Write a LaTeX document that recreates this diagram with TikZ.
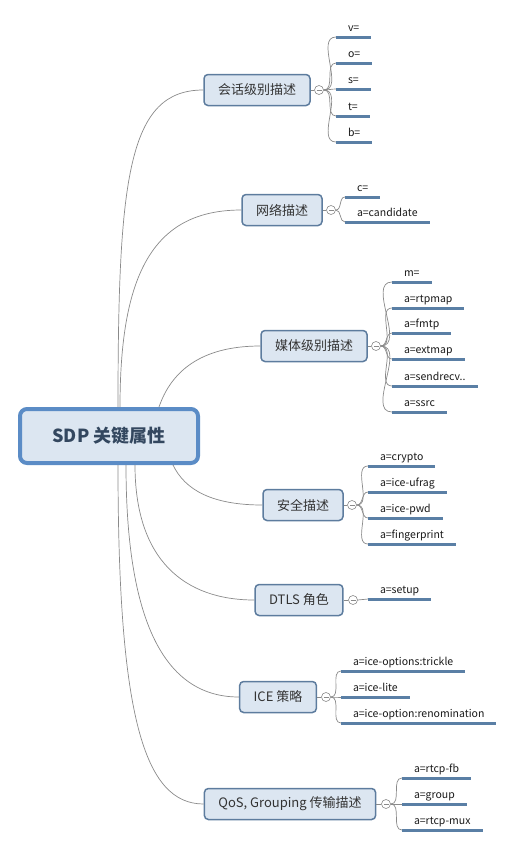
\documentclass[tikz,border=0pt]{standalone}
\usepackage{fontspec}
\setmainfont{Noto Sans CJK SC}
\definecolor{rootblue}{HTML}{5B8CC6}
\definecolor{boxfill}{HTML}{DCE6F1}
\definecolor{boxline}{HTML}{5D7C9E}
\definecolor{roottext}{HTML}{33475F}
\definecolor{leafblue}{HTML}{5A7FA5}
\definecolor{linegray}{HTML}{8A8A8A}
\begin{document}
\begin{tikzpicture}[x=1pt,y=-1pt]
\tikzset{
  raiz/.style={draw=rootblue,line width=4pt,fill=boxfill,rounded corners=7pt,minimum width=178pt,minimum height=54pt,font=\fontsize{18}{21}\selectfont\bfseries,text=roottext},
  ramo/.style={draw=boxline,line width=1.5pt,fill=boxfill,rounded corners=4pt,minimum height=31pt,inner xsep=14pt,font=\fontsize{13}{15}\selectfont,text=black!80},
  sublinha/.style={draw=leafblue,line width=3pt},
  folha/.style={anchor=south west,outer sep=0pt,inner xsep=12pt,inner ysep=3pt,text height=8pt,text depth=2.5pt,font=\fontsize{10.5}{12}\selectfont,text=black!90,
    append after command={(\tikzlastnode.south west) edge[sublinha] (\tikzlastnode.south east)}},
  botao/.style={circle,draw=linegray,fill=white,minimum size=9pt,inner sep=0pt,line width=0.6pt,
    path picture={\draw[linegray,line width=0.6pt] ([xshift=-2.5pt]path picture bounding box.center) -- ([xshift=2.5pt]path picture bounding box.center);}},
  galho/.style={draw=linegray,line width=0.7pt},
  conector/.style={draw=linegray,line width=0.7pt}
}
\useasboundingbox (0,0) rectangle (512,847);

% raiz e ramos principais
\node[raiz] (root) at (109,436) {SDP 关键属性};
\node[ramo] (sess) at (257,90)  {会话级别描述};
\node[ramo] (net)  at (282,210) {网络描述};
\node[ramo] (media) at (314,346) {媒体级别描述};
\node[ramo] (sec)  at (303,505) {安全描述};
\node[ramo] (dtls) at (299,600) {DTLS 角色};
\node[ramo] (ice)  at (278,697) {ICE 策略};
\node[ramo] (qos)  at (290,804) {QoS, Grouping 传输描述};

% botões de recolher
\node[botao] (bsess)  at (319,90)  {};
\node[botao] (bnet)   at (331,210) {};
\node[botao] (bmedia) at (376,346) {};
\node[botao] (bsec)   at (352,505) {};
\node[botao] (bdtls)  at (353,600) {};
\node[botao] (bice)   at (326,697) {};
\node[botao] (bqos)   at (386,804) {};

% folhas: sessão
\node[folha] (v) at (336,37)  {v=};
\node[folha] (o) at (336,63)  {o=};
\node[folha] (s) at (336,89)  {s=};
\node[folha] (t) at (336,116) {t=};
\node[folha] (b) at (336,142) {b=};

% folhas: rede
\node[folha] (c)    at (345,197) {c=};
\node[folha] (cand) at (345,222) {a=candidate};

% folhas: mídia
\node[folha] (m)      at (392,282) {m=};
\node[folha] (rtpmap) at (392,308) {a=rtpmap};
\node[folha] (fmtp)   at (392,333) {a=fmtp};
\node[folha] (extmap) at (392,359) {a=extmap};
\node[folha] (sendr)  at (392,386) {a=sendrecv..};
\node[folha] (ssrc)   at (392,412) {a=ssrc};

% folhas: segurança
\node[folha] (crypto) at (368,466) {a=crypto};
\node[folha] (ufrag)  at (368,492) {a=ice-ufrag};
\node[folha] (pwd)    at (368,518) {a=ice-pwd};
\node[folha] (fprint) at (368,544) {a=fingerprint};

% folhas: DTLS, ICE, QoS
\node[folha] (setup)   at (368,599) {a=setup};
\node[folha] (trickle) at (341,671) {a=ice-options:trickle};
\node[folha] (lite)    at (341,697) {a=ice-lite};
\node[folha] (renom)   at (341,723) {a=ice-option:renomination};
\node[folha] (rtcpfb)  at (402,778) {a=rtcp-fb};
\node[folha] (group)   at (402,804) {a=group};
\node[folha] (rtcpmux) at (402,830) {a=rtcp-mux};

% galhos da raiz
\draw[galho] ([xshift=9pt]root.north) .. controls +(0,-230) and +(-75,0) .. (sess.west);
\draw[galho] ([xshift=11pt]root.north) .. controls +(0,-130) and +(-90,0) .. (net.west);
\draw[galho] ([xshift=50pt]root.north) .. controls +(12,-35) and +(-60,0) .. (media.west);
\draw[galho] ([xshift=64pt]root.south) .. controls +(12,25) and +(-50,0) .. (sec.west);
\draw[galho] ([xshift=26pt]root.south) .. controls +(0,95) and +(-70,0) .. (dtls.west);
\draw[galho] ([xshift=17pt]root.south) .. controls +(0,165) and +(-70,0) .. (ice.west);
\draw[galho] ([xshift=9pt]root.south) .. controls +(0,250) and +(-60,0) .. (qos.west);

% ramo -> botão
\draw[conector] (sess.east) -- (bsess.west);
\draw[conector] (net.east) -- (bnet.west);
\draw[conector] (media.east) -- (bmedia.west);
\draw[conector] (sec.east) -- (bsec.west);
\draw[conector] (dtls.east) -- (bdtls.west);
\draw[conector] (ice.east) -- (bice.west);
\draw[conector] (qos.east) -- (bqos.west);

% botão -> folhas
\draw[conector] (bsess.east) to[out=0,in=180] (v.south west);
\draw[conector] (bsess.east) to[out=0,in=180] (o.south west);
\draw[conector] (bsess.east) to[out=0,in=180] (s.south west);
\draw[conector] (bsess.east) to[out=0,in=180] (t.south west);
\draw[conector] (bsess.east) to[out=0,in=180] (b.south west);
\draw[conector] (bnet.east) to[out=0,in=180] (c.south west);
\draw[conector] (bnet.east) to[out=0,in=180] (cand.south west);
\draw[conector] (bmedia.east) to[out=0,in=180] (m.south west);
\draw[conector] (bmedia.east) to[out=0,in=180] (rtpmap.south west);
\draw[conector] (bmedia.east) to[out=0,in=180] (fmtp.south west);
\draw[conector] (bmedia.east) to[out=0,in=180] (extmap.south west);
\draw[conector] (bmedia.east) to[out=0,in=180] (sendr.south west);
\draw[conector] (bmedia.east) to[out=0,in=180] (ssrc.south west);
\draw[conector] (bsec.east) to[out=0,in=180] (crypto.south west);
\draw[conector] (bsec.east) to[out=0,in=180] (ufrag.south west);
\draw[conector] (bsec.east) to[out=0,in=180] (pwd.south west);
\draw[conector] (bsec.east) to[out=0,in=180] (fprint.south west);
\draw[conector] (bdtls.east) -- (setup.south west);
\draw[conector] (bice.east) to[out=0,in=180] (trickle.south west);
\draw[conector] (bice.east) to[out=0,in=180] (lite.south west);
\draw[conector] (bice.east) to[out=0,in=180] (renom.south west);
\draw[conector] (bqos.east) to[out=0,in=180] (rtcpfb.south west);
\draw[conector] (bqos.east) to[out=0,in=180] (group.south west);
\draw[conector] (bqos.east) to[out=0,in=180] (rtcpmux.south west);
\end{tikzpicture}
\end{document}
